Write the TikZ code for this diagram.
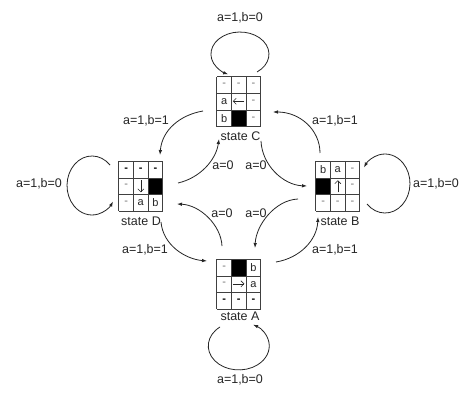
\documentclass[tikz,border=0pt]{standalone}
\usepackage{fontspec}
\setmainfont{Liberation Sans}
\usetikzlibrary{arrows.meta}
\begin{document}
\begin{tikzpicture}[x=1pt,y=-1pt,
  lbl/.style={font=\fontsize{12.5}{14}\selectfont, inner sep=0pt, text=black!85},
  cellt/.style={font=\fontsize{11}{12}\selectfont, inner sep=0pt, text=black!85},
  dsh/.style={font=\fontsize{11}{12}\selectfont, inner sep=0pt, text=black!55},
  bdsh/.style={font=\bfseries\fontsize{11}{12}\selectfont, inner sep=0pt, text=black},
  edge/.style={line width=0.8pt, draw=black!85, -{Latex[length=5pt,width=3.6pt]}},
  statebox/.style={draw=none, minimum width=44pt, minimum height=50pt, inner sep=0pt},
  gridline/.style={line width=0.8pt, draw=black!75},
  inarrow/.style={line width=0.6pt, draw=black!85, -{Straight Barb[length=3pt,width=6pt]}},
  blackcell/.style={fill=black}
]
\useasboundingbox[fill=white] (0,0) rectangle (474,393);

% state nodes
\node[statebox] (C) at (239,102) {};
\node[statebox] (D) at (141,186.5) {};
\node[statebox] (B) at (338,186.5) {};
\node[statebox] (A) at (239,284.5) {};

% ---------- grid C ----------
\begin{scope}[shift={(C.north west)}]
  \fill[blackcell] (14.667,33.333) rectangle (29.333,50);
  \foreach \i in {0,1,2,3} {
    \draw[gridline] (\i*14.667,0) -- (\i*14.667,50);
    \draw[gridline] (0,\i*16.667) -- (44,\i*16.667);
  }
  \node[dsh] (c11) at (7.33,8.33) {-};
  \node[dsh] (c12) at (22,8.33) {-};
  \node[dsh] (c13) at (36.67,8.33) {-};
  \node[cellt] (c21) at (7.33,25) {a};
  \draw[inarrow] (27.5,24.5) -- (16,24.5);
  \node[dsh] (c23) at (36.67,25) {-};
  \node[cellt] (c31) at (7.33,41.67) {b};
  \node[dsh] (c33) at (36.67,41.67) {-};
\end{scope}

% ---------- grid D ----------
\begin{scope}[shift={(D.north west)}]
  \fill[blackcell] (29.333,16.667) rectangle (44,33.333);
  \foreach \i in {0,1,2,3} {
    \draw[gridline] (\i*14.667,0) -- (\i*14.667,50);
    \draw[gridline] (0,\i*16.667) -- (44,\i*16.667);
  }
  \node[bdsh] (d11) at (7.33,8.33) {-};
  \node[bdsh] (d12) at (22,8.33) {-};
  \node[bdsh] (d13) at (36.67,8.33) {-};
  \node[dsh] (d21) at (7.33,25) {-};
  \draw[inarrow] (22,19) -- (22,31);
  \node[dsh] (d31) at (7.33,41.67) {-};
  \node[cellt] (d32) at (22,41.67) {a};
  \node[cellt] (d33) at (36.67,41.67) {b};
\end{scope}

% ---------- grid B ----------
\begin{scope}[shift={(B.north west)}]
  \fill[blackcell] (0,16.667) rectangle (14.667,33.333);
  \foreach \i in {0,1,2,3} {
    \draw[gridline] (\i*14.667,0) -- (\i*14.667,50);
    \draw[gridline] (0,\i*16.667) -- (44,\i*16.667);
  }
  \node[cellt] (b11) at (7.33,8.33) {b};
  \node[cellt] (b12) at (22,8.33) {a};
  \node[dsh] (b13) at (36.67,8.33) {-};
  \draw[inarrow] (22,31) -- (22,19);
  \node[dsh] (b23) at (36.67,25) {-};
  \node[dsh] (b31) at (7.33,41.67) {-};
  \node[dsh] (b32) at (22,41.67) {-};
  \node[dsh] (b33) at (36.67,41.67) {-};
\end{scope}

% ---------- grid A ----------
\begin{scope}[shift={(A.north west)}]
  \fill[blackcell] (14.667,0) rectangle (29.333,16.667);
  \foreach \i in {0,1,2,3} {
    \draw[gridline] (\i*14.667,0) -- (\i*14.667,50);
    \draw[gridline] (0,\i*16.667) -- (44,\i*16.667);
  }
  \node[dsh] (a11) at (7.33,8.33) {-};
  \node[cellt] (a13) at (36.67,8.33) {b};
  \node[dsh] (a21) at (7.33,25) {-};
  \draw[inarrow] (16,24.5) -- (27.5,24.5);
  \node[cellt] (a23) at (36.67,25) {a};
  \node[bdsh] (a31) at (7.33,41.67) {-};
  \node[bdsh] (a32) at (22,41.67) {-};
  \node[bdsh] (a33) at (36.67,41.67) {-};
\end{scope}

% state labels
\node[lbl] (Clab) at ([shift={(1.5,9)}]C.south) {state C};
\node[lbl] (Dlab) at ([shift={(0,10)}]D.south) {state D};
\node[lbl] (Blab) at ([shift={(2,10)}]B.south) {state B};
\node[lbl] (Alab) at ([shift={(1,7)}]A.south) {state A};

% self loops
\draw[edge] ([shift={(18,-30)}]C.center) arc[start angle=54, end angle=-246, x radius=29, y radius=22.1];
\draw[edge] ([shift={(-31,-21.5)}]D.center) arc[start angle=-44, end angle=-327, x radius=25, y radius=29.5];
\draw[edge] ([shift={(29,17.5)}]B.center) arc[start angle=136, end angle=-147, x radius=25, y radius=29.5];
\draw[edge] ([shift={(-19,42.5)}]A.center) arc[start angle=232, end angle=-62, x radius=30.5, y radius=24];

\node[lbl] (lC) at (240,18) {a=1,b=0};
\node[lbl] (lD) at (39,184) {a=1,b=0};
\node[lbl] (lB) at (436,184) {a=1,b=0};
\node[lbl] (lA) at (240,380) {a=1,b=0};

% transitions a=1,b=1
\draw[edge] ([shift={(-36,9)}]C.center) .. controls (180,115) and (162,130) .. ([shift={(19,-31.5)}]D.center);
\draw[edge] ([shift={(-18,-33.5)}]B.center) .. controls (320,130) and (300,112) .. ([shift={(34,10)}]C.center);
\draw[edge] ([shift={(20,35.5)}]D.center) .. controls (163,245) and (185,259) .. ([shift={(-32,-23.5)}]A.center);
\draw[edge] ([shift={(37,-22.5)}]A.center) .. controls (300,258) and (317,240) .. ([shift={(-20,30.5)}]B.center);

\node[lbl] (lCD) at (146,121) {a=1,b=1};
\node[lbl] (lBC) at (335,121) {a=1,b=1};
\node[lbl] (lDA) at (145,250) {a=1,b=1};
\node[lbl] (lAB) at (335,250) {a=1,b=1};

% transitions a=0
\draw[edge] ([shift={(37,-3.5)}]D.center) .. controls (200,178) and (216,160) .. ([shift={(-20,37)}]C.center);
\draw[edge] ([shift={(22,39)}]C.center) .. controls (262,165) and (283,185) .. ([shift={(-31,-0.5)}]B.center);
\draw[edge] ([shift={(-17,-38.5)}]A.center) .. controls (221,225) and (200,205) .. ([shift={(36,17.5)}]D.center);
\draw[edge] ([shift={(-40,12.5)}]B.center) .. controls (275,200) and (256,225) .. ([shift={(16,-36.5)}]A.center);

\node[lbl] (lDC) at (223,165) {a=0};
\node[lbl] (lCB) at (256,165) {a=0};
\node[lbl] (lAD) at (222,213) {a=0};
\node[lbl] (lBA) at (256,213) {a=0};
\end{tikzpicture}
\end{document}
